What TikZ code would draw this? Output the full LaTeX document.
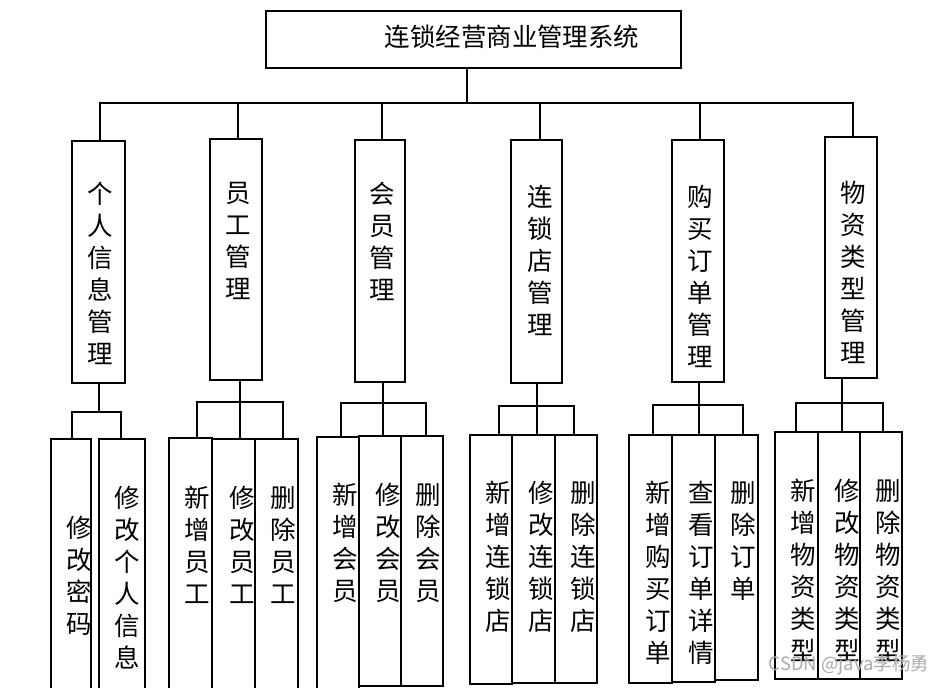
\documentclass[tikz,border=0pt]{standalone}
\usepackage{fontspec}
\setmainfont{Noto Sans CJK SC}
\usetikzlibrary{positioning,calc}
\tikzset{
  blk/.style={draw,line width=1.6pt,inner sep=0pt,outer sep=0pt,fill=white},
  vlab/.style={anchor=north,align=center,inner sep=0pt,
              font=\fontsize{14.5}{18.2}\selectfont},
  link/.style={line width=1.6pt},
  wmark/.style={font=\fontsize{10.5}{12}\selectfont,text=gray!65},
}
% box from its corners (picture units)
\newcommand{\blkbox}[5]{%
  \node[blk,minimum width={(#4-#2)*0.02cm},minimum height={(#5-#3)*0.02cm}]
    (#1) at ({(#2+#4)/2},{(#3+#5)/2}) {};}

\begin{document}
\begin{tikzpicture}[x=0.02cm,y=-0.02cm]
  \clip (0,0) rectangle (942,687);
  \fill[white] (0,0) rectangle (942,687);
  % --- top box ---
  \blkbox{sys}{266}{11}{681}{68}
  \node[font=\fontsize{14.5}{16}\selectfont] (systxt) at (512,37) {连锁经营商业管理系统};
  % --- second level ---
  \foreach \n/\xa/\ya/\xb/\yb/\tx/\ty/\lab in {
      g1/72/141/125/383/100/182/{个\\人\\信\\息\\管\\理},
      g2/210/139/262/380/238/182/{员\\工\\管\\理},
      g3/355/140/405/382/382/182/{会\\员\\管\\理},
      g4/511/140/562/383/540/185/{连\\锁\\店\\管\\理},
      g5/672/140/724/382/700/185/{购\\买\\订\\单\\管\\理},
      g6/825/137/877/378/853/181/{物\\资\\类\\型\\管\\理}} {
    \blkbox{\n}{\xa}{\ya}{\xb}{\yb}
    \node[vlab] (t\n) at (\tx,\ty) {\lab};
  }
  % --- third level ---
  \foreach \n/\xa/\ya/\xb/\yb/\tx/\ty/\lab in {
      s11/51/439/91/700/79/516/{修\\改\\密\\码},
      s12/99/439/145/700/127/486/{修\\改\\个\\人\\信\\息},
      s21/169/438/212/700/197/486/{新\\增\\员\\工},
      s22/212/439/255/700/242/486/{修\\改\\员\\工},
      s23/255/439/298/700/283/486/{删\\除\\员\\工},
      s31/317/437/359/700/345/483/{新\\增\\会\\员},
      s32/359/436/401/686/388/483/{修\\改\\会\\员},
      s33/401/436/443/686/428/483/{删\\除\\会\\员},
      s41/470/435/512/684/498/481/{新\\增\\连\\锁\\店},
      s42/512/435/555/683/541/481/{修\\改\\连\\锁\\店},
      s43/555/435/597/683/583/481/{删\\除\\连\\锁\\店},
      s51/629/435/672/683/658/481/{新\\增\\购\\买\\订\\单},
      s52/672/435/715/682/701/481/{查\\看\\订\\单\\详\\情},
      s53/715/435/758/680/743/481/{删\\除\\订\\单},
      s61/775/432/818/679/803/479/{新\\增\\物\\资\\类\\型},
      s62/818/432/860/679/847/479/{修\\改\\物\\资\\类\\型},
      s63/860/432/902/679/888/479/{删\\除\\物\\资\\类\\型}} {
    \blkbox{\n}{\xa}{\ya}{\xb}{\yb}
    \node[vlab] (t\n) at (\tx,\ty) {\lab};
  }
  % --- top bus ---
  \coordinate (bus) at (467,103);
  \draw[link] (bus |- sys.south) -- (bus);
  \draw[link] (tg1 |- g1.north) -- (tg1 |- bus) -- (tg6 |- bus) -- (tg6 |- g6.north);
  \foreach \n in {g2,g3,g4,g5}
    \draw[link] (t\n |- bus) -- (t\n |- \n.north);
  % --- sub buses ---
  \foreach \p/\x/\y/\xl/\xr/\cl/\cr in {
      g1/99/412/72/121/s11/s12,
      g2/240/402/197/283/s21/s23,
      g3/383/403/341/426/s31/s33,
      g4/537/406/499/574/s41/s43,
      g5/699/405/653/743/s51/s53,
      g6/842/403/796/883/s61/s63} {
    \coordinate (bm\p) at (\x,\y);
    \coordinate (bl\p) at (\xl,\y);
    \coordinate (br\p) at (\xr,\y);
    \draw[link] (bm\p |- \p.south) -- (bm\p);
    \draw[link] (bl\p |- \cl.north) -- (bl\p) -- (br\p) -- (br\p |- \cr.north);
  }
  \foreach \p/\cm in {g2/s22,g3/s32,g4/s42,g5/s52,g6/s62}
    \draw[link] (bm\p) -- (bm\p |- \cm.north);
  % --- watermark ---
  \node[wmark] (wm) at (849,665) {CSDN @java李杨勇};
\end{tikzpicture}
\end{document}
